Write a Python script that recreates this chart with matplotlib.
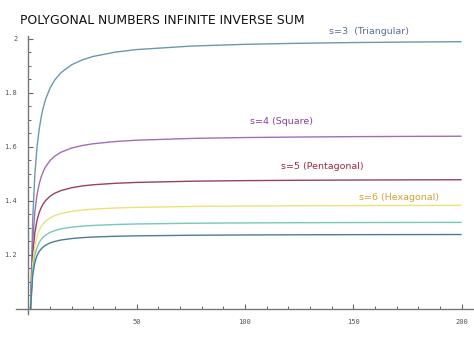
import matplotlib
matplotlib.use("Agg")
import matplotlib.pyplot as plt
from matplotlib.ticker import FixedLocator

# ---- data ----
n = [1, 2, 3, 4, 5, 6, 7, 8, 10, 12, 15, 20, 25, 30, 40, 50, 75, 100, 125, 150, 175, 200]
tri = [1.0, 1.3333, 1.5, 1.6, 1.6667, 1.7143, 1.75, 1.7778, 1.8182, 1.8462, 1.875, 1.9048,
       1.9231, 1.9355, 1.9512, 1.9608, 1.9737, 1.9802, 1.9841, 1.9868, 1.9886, 1.99]
sqr = [1.0, 1.25, 1.3611, 1.4236, 1.4636, 1.4914, 1.5118, 1.5274, 1.5498, 1.565, 1.5804, 1.5962,
       1.6057, 1.6121, 1.6202, 1.6251, 1.6317, 1.635, 1.6369, 1.6383, 1.6392, 1.6399]
pent = [1.0, 1.2, 1.2833, 1.3288, 1.3573, 1.3769, 1.3912, 1.4021, 1.4175, 1.428, 1.4385, 1.4492,
        1.4559, 1.4601, 1.4655, 1.4688, 1.4732, 1.4754, 1.4767, 1.4776, 1.4782, 1.4787]
hexa = [1.0, 1.1667, 1.2333, 1.269, 1.2913, 1.3064, 1.3174, 1.3257, 1.3375, 1.3453, 1.3535, 1.3616,
        1.3667, 1.3697, 1.374, 1.3764, 1.3797, 1.3813, 1.3823, 1.383, 1.3835, 1.3838]
hept = [1.0, 1.1429, 1.1984, 1.2278, 1.246, 1.2583, 1.2673, 1.2741, 1.2836, 1.2898, 1.2968, 1.3031,
        1.3071, 1.3095, 1.3129, 1.3149, 1.3175, 1.3188, 1.3196, 1.3201, 1.3205, 1.3208]
octa = [1.0, 1.125, 1.1726, 1.1976, 1.213, 1.2234, 1.2309, 1.2366, 1.2446, 1.2498, 1.2555, 1.2609,
        1.2644, 1.2666, 1.2693, 1.2709, 1.2731, 1.2742, 1.2748, 1.2753, 1.2756, 1.2758]

series = [tri, sqr, pent, hexa, hept, octa]
line_colors = ["#6d98ad", "#a36db3", "#94435e", "#ece27a", "#73cbb2", "#4d7c98"]

title = "POLYGONAL NUMBERS INFINITE INVERSE SUM"
labels = ["s=3  (Triangular)", "s=4 (Square)", "s=5 (Pentagonal)", "s=6 (Hexagonal)"]
label_colors = ["#5a6aa3", "#8c3f9c", "#9b2c3e", "#d2a232"]

x_major = [50, 100, 150, 200]
x_minor = [10, 20, 30, 40, 60, 70, 80, 90, 110, 120, 130, 140, 160, 170, 180, 190]
y_major = [1.2, 1.4, 1.6, 1.8, 2.0]
y_major_labels = ["1.2", "1.4", "1.6", "1.8", "2"]
y_minor = [1.05, 1.1, 1.15, 1.25, 1.3, 1.35, 1.45, 1.5, 1.55, 1.65, 1.7, 1.75, 1.85, 1.9, 1.95]

# ---- figure ----
W, H = 474, 355
fig = plt.figure(figsize=(W / 100, H / 100), dpi=100)
ax = fig.add_axes([0, 0, 1, 1])
ax.set_facecolor("white")

for ys, c in zip(series, line_colors):
    ax.plot(n, ys, color=c, lw=1.0, solid_capstyle="butt")

ax.set_xlim(-13.1, 205.7)
ax.set_ylim(0.8296, 2.1444)

for s in ["top", "right"]:
    ax.spines[s].set_visible(False)
ax.spines["left"].set_position(("data", 0))
ax.spines["bottom"].set_position(("data", 1.0))
ax.spines["left"].set_bounds(0.98, 2.01)
ax.spines["bottom"].set_bounds(-5.5, 205.7)
for s in ["left", "bottom"]:
    ax.spines[s].set_color("#777777")
    ax.spines[s].set_linewidth(1.0)

ax.xaxis.set_major_locator(FixedLocator(x_major))
ax.set_xticklabels([str(v) for v in x_major])
ax.yaxis.set_major_locator(FixedLocator(y_major))
ax.set_yticklabels(y_major_labels)
ax.xaxis.set_minor_locator(FixedLocator(x_minor))
ax.yaxis.set_minor_locator(FixedLocator(y_minor))
ax.tick_params(axis="both", which="major", direction="in", length=3.5, width=0.8,
               color="#666666", labelsize=5, labelcolor="#555555")
ax.tick_params(axis="both", which="minor", direction="in", length=2.5, width=0.7, color="#666666")
ax.tick_params(axis="x", which="major", pad=7)
ax.tick_params(axis="y", which="major", pad=8)
for lab in ax.get_xticklabels() + ax.get_yticklabels():
    lab.set_family("DejaVu Sans Mono")

fig.text(20 / W, 1 - 20 / H, title, fontsize=8.9, color="#111111", ha="left", va="center",
         family="DejaVu Sans")

label_pos = [(369, 32), (281, 122), (322, 166), (399, 198)]
for txt, col, (px, py) in zip(labels, label_colors, label_pos):
    fig.text(px / W, 1 - py / H, txt, fontsize=6.8, color=col, ha="center", va="center",
             family="DejaVu Sans")

fig.savefig("out.png", dpi=100, facecolor="white")
